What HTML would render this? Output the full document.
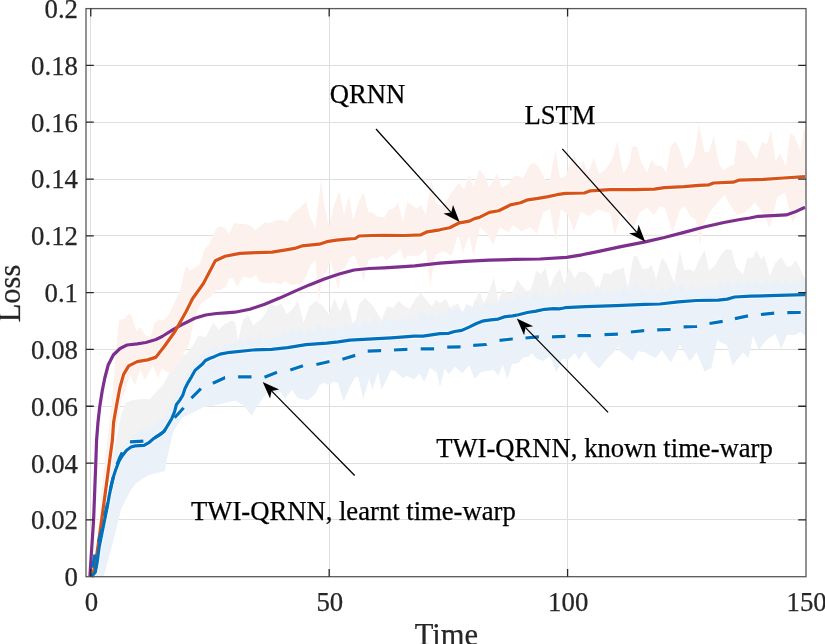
<!DOCTYPE html><html><head><meta charset="utf-8"><style>html,body{margin:0;padding:0;background:#fff;overflow:hidden}svg{display:block}</style></head><body>
<svg width="825" height="644" viewBox="0 0 825 644">
<rect width="825" height="644" fill="#fff"/>
<path d="M86.0 519.50H806.0M86.0 463.50H806.0M86.0 406.50H806.0M86.0 349.50H806.0M86.0 292.50H806.0M86.0 235.50H806.0M86.0 179.50H806.0M86.0 122.50H806.0M86.0 65.50H806.0M90.50 8.6V576.7M329.50 8.6V576.7M567.50 8.6V576.7" stroke="#dfdfdf" stroke-width="1" fill="none"/>
<polygon points="95.0,576.7 100.0,540.0 106.0,500.0 111.0,465.0 116.0,440.0 121.0,415.0 126.0,403.0 133.0,400.0 142.0,399.0 150.0,399.0 156.0,392.0 163.0,385.0 170.0,372.0 176.0,366.0 181.5,355.9 186.0,354.0 190.8,348.4 195.0,342.0 198.3,335.4 205.7,337.3 213.2,322.4 218.8,329.8 224.3,324.2 231.8,320.5 235.0,322.0 238.0,339.7 243.0,320.0 247.9,314.6 253.5,325.8 257.0,322.0 261.8,318.8 266.0,312.0 270.2,303.5 275.8,306.2 281.3,303.5 286.9,314.6 292.5,309.0 298.0,300.7 303.6,323.0 309.2,306.2 316.2,300.7 323.2,306.2 328.7,314.6 334.3,297.9 339.9,311.8 345.5,297.9 350.0,312.0 353.8,328.5 359.4,303.5 365.0,297.9 373.3,306.2 381.7,320.2 387.3,306.2 393.0,308.0 398.4,300.7 404.0,306.0 409.6,309.0 415.0,300.0 420.7,292.3 426.0,300.0 431.9,306.2 436.0,300.0 440.0,303.3 445.6,298.8 450.1,307.8 457.9,303.3 462.4,312.3 469.2,304.4 473.6,307.8 479.2,289.9 483.7,303.3 488.2,294.3 493.8,277.5 498.3,301.1 502.8,288.7 507.3,293.2 511.8,293.2 517.4,279.8 521.9,285.4 526.3,291.0 530.8,289.9 536.4,270.8 540.9,274.2 545.4,267.4 549.9,287.6 554.4,276.4 560.0,268.5 564.5,284.2 569.0,267.4 574.6,278.6 579.0,271.9 585.8,271.9 592.5,278.6 598.1,292.1 603.7,273.1 610.4,274.2 614.9,269.7 620.0,269.3 623.4,267.1 627.9,287.4 633.5,255.8 636.9,255.8 642.5,269.3 648.2,268.2 651.6,264.8 656.1,279.5 661.7,258.0 666.2,262.5 674.1,282.8 679.8,251.3 684.3,270.4 688.8,269.3 694.4,271.6 698.9,260.3 704.6,250.1 709.1,270.4 714.7,265.9 720.3,255.8 726.0,249.0 731.6,250.1 736.1,267.1 742.9,275.0 747.4,258.0 753.0,258.0 756.4,250.1 760.9,259.2 764.3,255.8 770.0,276.1 775.6,262.5 781.2,256.9 786.9,267.1 791.4,265.9 795.9,260.3 801.5,271.6 804.9,278.3 806.0,275.0 806.0,336.3 800.4,331.8 794.7,335.1 786.9,335.1 781.2,348.7 775.6,334.0 766.6,339.7 758.7,349.8 753.0,335.1 748.5,357.7 742.9,352.1 732.7,365.6 727.1,345.3 722.6,343.0 717.0,339.7 711.3,367.8 704.6,371.2 696.7,352.1 689.9,361.1 684.3,352.1 679.8,344.2 676.4,352.1 670.7,362.2 661.7,349.8 656.1,357.7 650.4,355.4 644.8,352.1 638.0,350.9 632.4,361.1 624.5,354.3 620.0,350.9 618.3,346.2 612.7,352.9 606.0,359.7 599.2,368.6 590.3,359.7 584.7,350.7 579.0,359.7 574.6,352.9 567.8,359.7 562.2,358.5 556.6,372.0 549.9,356.3 543.2,360.8 536.4,358.5 532.0,352.9 528.6,356.3 523.0,357.4 518.5,363.0 511.8,364.2 507.3,378.7 502.8,364.2 498.3,375.4 493.8,369.8 480.4,372.0 474.8,378.7 469.2,365.3 462.4,373.1 454.6,366.4 449.0,374.2 444.5,368.6 440.0,386.6 436.9,372.3 430.0,367.7 424.3,381.5 419.7,373.4 413.9,379.2 407.0,375.7 402.4,378.0 395.5,371.1 390.9,370.0 381.7,389.5 378.2,371.1 372.5,389.5 369.0,378.0 363.2,398.8 358.6,376.9 355.2,376.9 349.4,387.2 343.7,401.1 337.9,382.6 333.3,381.5 328.7,384.9 324.1,382.6 319.5,384.9 314.9,394.2 308.0,399.9 301.1,398.8 297.6,397.6 291.8,389.5 284.9,398.8 280.3,391.8 273.4,394.2 266.5,393.0 260.8,401.1 255.0,409.1 251.8,415.6 243.1,404.7 234.4,400.4 216.9,404.7 203.8,406.9 190.7,413.4 182.0,417.8 173.3,430.9 166.7,459.0 164.7,471.0 148.5,475.0 136.0,483.0 130.0,491.0 120.9,509.5 112.2,544.4 103.5,576.7" fill="#F2F2F2"/>
<polygon points="90.0,576.7 94.7,561.8 100.0,535.0 107.8,509.5 111.1,475.0 116.5,455.0 125.3,444.0 138.4,430.9 151.5,426.5 164.5,417.8 173.3,400.4 186.4,374.2 199.5,356.7 216.9,345.4 220.5,351.0 223.8,341.8 227.9,347.1 232.5,343.4 236.8,344.9 240.2,338.6 245.6,343.3 249.3,335.1 255.0,342.7 259.2,330.3 262.5,342.2 266.4,335.9 269.9,339.4 275.3,334.3 280.0,338.9 284.1,329.8 287.5,335.7 291.2,327.3 295.5,334.8 300.2,327.3 304.2,334.8 309.2,327.7 313.9,332.5 319.4,322.3 323.3,332.6 326.8,324.0 332.0,329.3 336.5,326.0 341.4,330.2 346.1,318.4 350.1,329.1 354.9,319.9 359.3,328.6 365.0,319.5 369.9,324.7 375.0,316.6 380.8,325.4 384.7,317.4 389.7,322.1 394.1,318.3 397.5,321.4 402.7,317.6 406.6,321.2 412.1,316.5 416.4,320.2 422.0,309.1 427.4,317.7 431.7,311.3 437.3,318.2 440.8,311.4 444.6,314.9 449.0,306.7 452.9,312.6 457.2,306.7 461.9,313.6 466.9,303.6 471.7,310.7 475.0,298.8 480.3,309.6 485.6,300.7 489.8,305.3 494.6,301.5 498.0,304.0 501.6,298.0 504.9,302.1 508.4,298.6 512.5,300.7 518.1,292.7 521.6,299.7 525.7,293.2 529.2,300.0 535.0,290.9 539.5,296.6 542.9,291.5 546.8,298.5 550.3,293.7 556.1,297.1 559.6,289.0 562.8,296.8 568.6,286.0 573.7,295.4 577.8,291.1 583.0,295.8 588.3,289.3 592.0,296.2 597.8,284.7 603.2,295.7 608.3,289.2 612.9,293.8 616.1,290.4 620.0,293.2 625.0,282.5 629.4,294.8 635.2,282.0 639.3,292.1 643.1,287.7 646.8,292.9 652.4,282.1 656.8,292.5 662.1,287.6 667.1,292.8 672.3,281.8 676.8,290.1 682.0,284.6 687.4,291.9 691.6,283.6 697.3,290.7 700.9,285.3 704.4,290.9 709.8,284.6 715.2,290.2 720.1,282.0 724.7,286.7 727.9,276.2 732.8,287.1 738.5,279.4 744.0,286.8 747.7,280.0 751.6,284.3 756.4,279.5 760.7,284.0 766.3,278.8 770.6,285.4 776.2,278.2 781.9,285.1 786.5,277.4 789.7,284.9 793.3,281.6 798.6,284.1 803.0,275.8 806.0,283.6 806.0,336.3 800.4,331.8 794.7,335.1 786.9,335.1 781.2,348.7 775.6,334.0 766.6,339.7 758.7,349.8 753.0,335.1 748.5,357.7 742.9,352.1 732.7,365.6 727.1,345.3 722.6,343.0 717.0,339.7 711.3,367.8 704.6,371.2 696.7,352.1 689.9,361.1 684.3,352.1 679.8,344.2 676.4,352.1 670.7,362.2 661.7,349.8 656.1,357.7 650.4,355.4 644.8,352.1 638.0,350.9 632.4,361.1 624.5,354.3 620.0,350.9 618.3,346.2 612.7,352.9 606.0,359.7 599.2,368.6 590.3,359.7 584.7,350.7 579.0,359.7 574.6,352.9 567.8,359.7 562.2,358.5 556.6,372.0 549.9,356.3 543.2,360.8 536.4,358.5 532.0,352.9 528.6,356.3 523.0,357.4 518.5,363.0 511.8,364.2 507.3,378.7 502.8,364.2 498.3,375.4 493.8,369.8 480.4,372.0 474.8,378.7 469.2,365.3 462.4,373.1 454.6,366.4 449.0,374.2 444.5,368.6 440.0,386.6 436.9,372.3 430.0,367.7 424.3,381.5 419.7,373.4 413.9,379.2 407.0,375.7 402.4,378.0 395.5,371.1 390.9,370.0 381.7,389.5 378.2,371.1 372.5,389.5 369.0,378.0 363.2,398.8 358.6,376.9 355.2,376.9 349.4,387.2 343.7,401.1 337.9,382.6 333.3,381.5 328.7,384.9 324.1,382.6 319.5,384.9 314.9,394.2 308.0,399.9 301.1,398.8 297.6,397.6 291.8,389.5 284.9,398.8 280.3,391.8 273.4,394.2 266.5,393.0 260.8,401.1 255.0,409.1 251.8,415.6 243.1,404.7 234.4,400.4 216.9,404.7 203.8,406.9 190.7,413.4 182.0,417.8 173.3,430.9 166.7,459.0 164.7,471.0 148.5,475.0 136.0,483.0 130.0,491.0 120.9,509.5 112.2,544.4 103.5,576.7" fill="#EAF1F9"/>
<polygon points="92.0,576.7 97.0,540.0 104.0,470.0 112.0,400.0 118.0,330.0 119.1,320.0 124.1,319.0 129.2,312.9 132.2,316.9 136.2,331.1 140.3,327.0 145.3,335.1 150.4,337.1 154.4,323.0 159.4,319.0 163.5,321.0 168.5,314.9 174.6,302.8 180.6,288.7 185.7,266.5 190.7,270.5 194.7,267.5 199.8,264.5 203.8,250.4 208.9,244.3 212.9,236.2 215.9,229.2 220.0,226.1 225.0,228.2 229.0,234.2 234.1,223.1 239.1,224.1 245.2,224.1 251.2,226.1 255.3,230.2 260.3,226.1 264.6,222.2 269.2,223.3 276.1,220.3 283.0,219.9 287.6,221.7 292.2,214.1 299.2,208.4 306.1,201.5 309.5,215.3 315.3,229.1 321.0,179.6 324.5,206.1 329.1,226.8 333.7,206.1 339.5,191.1 344.1,215.3 348.7,195.7 353.3,219.9 359.0,201.5 363.6,192.2 368.2,211.8 372.9,213.0 377.5,216.4 384.4,217.6 389.0,209.5 393.6,208.4 398.2,202.6 402.8,222.2 407.4,201.5 412.0,204.9 416.6,208.4 421.2,204.9 425.8,215.3 431.6,178.4 436.2,203.8 441.9,206.1 446.5,201.5 450.0,194.5 453.5,190.0 459.1,182.8 464.0,190.0 469.2,175.0 473.6,187.3 479.2,169.3 484.9,176.1 489.3,187.3 497.2,173.8 501.7,187.3 507.3,185.0 514.0,176.1 518.5,176.1 523.0,178.3 529.7,164.9 534.2,162.6 538.7,167.1 545.4,180.6 549.9,180.6 555.5,149.2 560.0,178.3 565.6,176.1 574.6,153.6 579.0,171.6 583.5,160.4 588.0,173.8 593.6,158.1 599.2,173.8 606.0,169.3 612.7,158.1 617.2,141.3 621.7,164.9 623.4,173.6 629.0,164.6 632.4,146.6 636.9,146.6 641.4,162.4 647.1,172.5 651.6,160.1 656.1,165.7 661.7,165.7 666.2,172.5 670.7,146.6 675.2,140.9 679.8,150.0 685.4,169.1 689.9,163.5 694.4,155.6 698.9,124.0 704.6,152.2 709.1,152.2 713.6,135.3 719.2,164.6 723.7,170.2 730.5,165.7 733.9,164.6 737.2,139.8 746.3,142.1 750.8,151.1 756.4,159.0 762.0,142.1 766.6,144.3 771.1,129.7 775.6,161.2 780.1,153.3 785.7,165.7 790.2,133.0 794.7,136.4 800.4,151.1 803.8,129.7 806.0,128.5 806.0,200.0 799.0,212.0 792.3,222.5 784.8,192.5 777.3,197.5 769.8,227.4 762.0,212.0 754.8,202.5 746.0,212.0 737.3,215.0 730.0,205.0 724.8,195.0 717.4,202.5 710.0,212.0 703.0,225.0 699.9,245.0 696.0,220.0 690.0,216.0 685.0,206.0 680.0,210.0 672.4,232.4 665.0,208.0 660.0,206.0 654.0,215.0 647.4,207.5 640.0,212.0 632.5,230.0 625.0,212.0 620.0,215.0 615.0,235.0 610.0,213.0 604.6,211.8 598.0,209.6 589.3,216.2 580.6,211.8 574.0,231.5 567.5,214.0 560.9,209.6 555.5,240.2 550.0,209.6 543.5,211.8 536.9,233.6 530.4,227.1 521.6,231.5 512.9,224.9 508.5,232.5 499.8,227.1 493.3,244.5 486.7,233.6 480.0,227.0 473.6,255.5 469.0,236.0 462.7,253.3 458.4,233.6 451.8,255.5 443.0,251.0 439.0,253.3 435.0,255.7 430.4,285.7 425.8,248.8 418.9,255.7 412.0,255.7 407.4,255.7 404.0,260.3 400.5,248.8 395.9,253.4 391.3,255.7 386.7,260.3 382.1,255.7 377.5,258.0 372.9,258.0 368.2,260.3 363.6,281.1 359.0,267.2 354.4,255.7 349.8,258.0 345.2,267.2 341.8,269.5 338.3,290.3 333.7,271.8 330.2,260.3 326.8,271.8 322.2,276.5 318.7,301.8 315.3,260.3 310.7,264.9 306.1,276.5 301.5,283.4 294.5,284.5 289.9,284.5 285.3,281.1 280.7,284.5 273.8,282.2 266.9,283.4 260.0,282.2 256.0,275.0 251.2,278.6 243.2,276.6 237.1,286.7 233.1,278.6 229.0,278.6 226.0,286.7 221.0,289.7 214.9,290.7 211.9,296.0 206.8,299.0 200.4,305.0 197.5,310.8 195.0,317.0 193.0,325.0 191.0,335.0 189.0,345.0 184.0,353.0 180.0,362.0 176.0,366.0 172.0,374.0 167.0,372.0 162.0,368.0 158.0,378.0 153.0,366.0 149.0,372.0 145.0,380.0 140.0,370.0 135.0,385.0 130.0,375.0 125.0,392.0 121.0,400.0 118.0,420.0 113.0,450.0 107.0,490.0 100.0,530.0 95.0,576.7" fill="#FCF1EC"/>
<g fill="none" stroke="#fff" stroke-width="4.9" stroke-opacity="0.85" stroke-linejoin="round"><polyline points="89.9,576.7 91.4,553.0 93.6,520.0 95.8,462.8 96.6,440.0 98.0,422.2 99.7,407.0 102.2,391.0 104.8,378.0 108.2,365.0 113.3,355.0 120.1,348.5 127.0,345.0 137.2,343.8 145.8,342.5 156.0,339.5 162.1,336.5 173.0,329.6 183.8,323.7 194.7,318.3 205.6,315.0 216.4,313.5 226.0,312.8 234.9,312.2 249.8,309.2 264.7,304.3 279.6,298.1 294.5,291.4 309.4,284.9 324.3,279.0 339.2,274.0 354.1,270.0 369.0,268.5 383.9,267.8 400.0,266.8 414.8,265.8 439.7,263.2 464.5,261.3 489.3,260.2 514.1,259.4 540.0,259.0 566.5,257.3 582.0,254.8 597.6,251.6 620.9,246.6 644.1,242.1 664.3,237.5 684.1,232.4 704.0,227.0 723.9,222.5 740.0,219.5 749.9,218.0 758.3,216.3 772.3,215.7 786.2,214.9 794.6,212.1 805.0,207.3"/><polyline points="91.5,576.7 92.5,575.9 95.8,561.7 100.1,531.3 104.8,496.5 108.3,470.4 112.4,440.0 113.6,422.2 116.6,405.1 119.8,388.0 123.6,374.4 128.7,365.9 137.2,361.6 147.5,359.9 155.6,357.4 164.3,346.5 175.1,331.3 186.0,311.7 192.5,298.7 203.4,283.5 215.3,260.7 225.1,256.3 239.9,253.4 257.2,252.6 272.1,252.1 284.5,250.1 294.5,248.4 301.9,245.9 309.4,245.2 319.3,244.2 326.8,241.7 336.7,240.2 346.6,239.2 355.3,238.5 359.0,236.0 371.4,235.5 383.9,235.3 404.9,235.5 421.0,234.8 427.2,231.8 439.7,229.8 449.6,227.8 459.5,222.8 469.4,221.1 474.4,218.6 479.4,217.4 489.3,212.4 498.7,210.7 510.4,204.9 520.5,202.7 527.8,199.8 538.0,198.4 548.2,196.6 556.9,194.7 565.6,193.3 584.5,193.0 590.4,190.8 609.7,189.7 634.5,189.7 654.3,189.2 664.3,187.7 684.1,186.7 699.0,185.3 709.0,184.8 713.5,183.0 733.1,182.2 738.7,180.2 763.9,179.4 783.4,178.0 805.0,176.6"/><polyline points="91.2,575.5 93.5,574.3 95.3,572.2 97.2,562.0 99.0,548.0 101.8,534.0 104.6,520.0 107.6,505.0 109.2,495.9 111.4,485.0 113.6,476.3 115.7,469.8 119.0,461.1 122.3,455.7 126.6,450.2 131.0,447.0 135.3,445.9 144.0,445.3 149.3,442.3 154.0,438.3 159.7,434.6 164.0,431.5 168.2,424.6 171.7,418.7 174.6,411.7 176.3,404.8 179.8,400.1 182.7,395.4 185.0,388.4 188.0,382.6 191.5,376.8 195.0,370.4 198.4,367.5 201.9,364.6 205.4,360.5 210.1,358.2 214.8,356.4 220.0,354.1 230.0,352.3 253.0,350.0 271.5,349.3 287.6,347.7 306.0,344.7 326.7,343.1 338.2,341.9 349.8,340.1 368.2,339.1 391.2,337.8 414.2,336.2 423.0,336.2 440.0,333.6 448.7,333.3 454.5,331.5 461.8,330.4 469.1,327.1 476.4,323.5 483.6,320.8 490.9,319.8 498.2,319.1 504.0,316.9 512.7,315.9 518.5,314.7 527.3,312.5 536.0,311.1 544.7,309.3 553.5,308.6 560.0,308.8 565.0,307.7 585.5,306.6 616.0,305.6 644.8,304.4 660.0,304.0 678.2,301.9 696.4,300.5 718.2,300.2 727.3,299.1 734.5,297.0 750.9,296.2 778.2,295.4 805.5,294.6"/><path d="M92.7,567.7 L93.6,562.0 L95.0,554.5M98.5,541.9 L100.0,537.0 L101.9,529.0M104.8,516.2 L107.4,504.0 L107.6,503.1M110.3,490.3 L111.8,483.0 L113.2,477.2M117.0,464.6 L119.5,458.0 L122.3,452.4M130.0,441.8 L143.4,441.2M154.9,437.7 L159.7,434.6 L164.0,431.5 L165.2,429.5M174.6,417.8 L183.0,408.5 L183.5,407.8M191.4,398.2 L200.9,388.7M212.8,383.3 L224.9,377.7 L225.0,377.7M238.1,376.9 L251.5,376.9M264.5,377.2 L277.0,372.3M290.3,370.0 L303.0,365.8M316.4,364.5 L329.5,361.5M342.4,359.2 L355.2,355.4M367.7,351.1 L380.9,350.7 L381.1,350.7M394.0,350.0 L406.9,349.3 L407.4,349.3M420.7,348.9 L434.1,348.9M447.2,347.2 L460.3,346.9 L460.6,346.9M473.2,345.4 L486.4,344.5 L486.6,344.4M499.5,340.3 L512.4,339.0 L512.8,339.0M525.5,338.0 L538.2,336.9 L538.9,336.9M552.0,336.9 L564.7,336.4 L565.4,336.4M577.5,335.7 L590.0,335.6 L590.9,335.5M604.5,334.7 L617.7,334.2 L617.9,334.2M630.9,332.0 L644.0,330.6 L644.2,330.6M657.2,329.8 L670.5,329.5 L670.6,329.5M683.6,326.8 L696.4,326.5 L697.0,326.4M709.5,323.5 L722.7,321.4 L722.7,321.4M734.9,318.6 L748.0,315.9M760.9,314.5 L774.2,313.2 L774.2,313.2M787.3,312.6 L800.7,312.5"/></g>
<polyline points="89.9,576.7 91.4,553.0 93.6,520.0 95.8,462.8 96.6,440.0 98.0,422.2 99.7,407.0 102.2,391.0 104.8,378.0 108.2,365.0 113.3,355.0 120.1,348.5 127.0,345.0 137.2,343.8 145.8,342.5 156.0,339.5 162.1,336.5 173.0,329.6 183.8,323.7 194.7,318.3 205.6,315.0 216.4,313.5 226.0,312.8 234.9,312.2 249.8,309.2 264.7,304.3 279.6,298.1 294.5,291.4 309.4,284.9 324.3,279.0 339.2,274.0 354.1,270.0 369.0,268.5 383.9,267.8 400.0,266.8 414.8,265.8 439.7,263.2 464.5,261.3 489.3,260.2 514.1,259.4 540.0,259.0 566.5,257.3 582.0,254.8 597.6,251.6 620.9,246.6 644.1,242.1 664.3,237.5 684.1,232.4 704.0,227.0 723.9,222.5 740.0,219.5 749.9,218.0 758.3,216.3 772.3,215.7 786.2,214.9 794.6,212.1 805.0,207.3" fill="none" stroke="#7E2F8E" stroke-width="3.2" stroke-linejoin="round"/>
<polyline points="91.5,576.7 92.5,575.9 95.8,561.7 100.1,531.3 104.8,496.5 108.3,470.4 112.4,440.0 113.6,422.2 116.6,405.1 119.8,388.0 123.6,374.4 128.7,365.9 137.2,361.6 147.5,359.9 155.6,357.4 164.3,346.5 175.1,331.3 186.0,311.7 192.5,298.7 203.4,283.5 215.3,260.7 225.1,256.3 239.9,253.4 257.2,252.6 272.1,252.1 284.5,250.1 294.5,248.4 301.9,245.9 309.4,245.2 319.3,244.2 326.8,241.7 336.7,240.2 346.6,239.2 355.3,238.5 359.0,236.0 371.4,235.5 383.9,235.3 404.9,235.5 421.0,234.8 427.2,231.8 439.7,229.8 449.6,227.8 459.5,222.8 469.4,221.1 474.4,218.6 479.4,217.4 489.3,212.4 498.7,210.7 510.4,204.9 520.5,202.7 527.8,199.8 538.0,198.4 548.2,196.6 556.9,194.7 565.6,193.3 584.5,193.0 590.4,190.8 609.7,189.7 634.5,189.7 654.3,189.2 664.3,187.7 684.1,186.7 699.0,185.3 709.0,184.8 713.5,183.0 733.1,182.2 738.7,180.2 763.9,179.4 783.4,178.0 805.0,176.6" fill="none" stroke="#D95319" stroke-width="3.2" stroke-linejoin="round"/>
<polyline points="91.2,575.5 93.5,574.3 95.3,572.2 97.2,562.0 99.0,548.0 101.8,534.0 104.6,520.0 107.6,505.0 109.2,495.9 111.4,485.0 113.6,476.3 115.7,469.8 119.0,461.1 122.3,455.7 126.6,450.2 131.0,447.0 135.3,445.9 144.0,445.3 149.3,442.3 154.0,438.3 159.7,434.6 164.0,431.5 168.2,424.6 171.7,418.7 174.6,411.7 176.3,404.8 179.8,400.1 182.7,395.4 185.0,388.4 188.0,382.6 191.5,376.8 195.0,370.4 198.4,367.5 201.9,364.6 205.4,360.5 210.1,358.2 214.8,356.4 220.0,354.1 230.0,352.3 253.0,350.0 271.5,349.3 287.6,347.7 306.0,344.7 326.7,343.1 338.2,341.9 349.8,340.1 368.2,339.1 391.2,337.8 414.2,336.2 423.0,336.2 440.0,333.6 448.7,333.3 454.5,331.5 461.8,330.4 469.1,327.1 476.4,323.5 483.6,320.8 490.9,319.8 498.2,319.1 504.0,316.9 512.7,315.9 518.5,314.7 527.3,312.5 536.0,311.1 544.7,309.3 553.5,308.6 560.0,308.8 565.0,307.7 585.5,306.6 616.0,305.6 644.8,304.4 660.0,304.0 678.2,301.9 696.4,300.5 718.2,300.2 727.3,299.1 734.5,297.0 750.9,296.2 778.2,295.4 805.5,294.6" fill="none" stroke="#0072BD" stroke-width="3.2" stroke-linejoin="round"/>
<path d="M92.7,567.7 L93.6,562.0 L95.0,554.5M98.5,541.9 L100.0,537.0 L101.9,529.0M104.8,516.2 L107.4,504.0 L107.6,503.1M110.3,490.3 L111.8,483.0 L113.2,477.2M117.0,464.6 L119.5,458.0 L122.3,452.4M130.0,441.8 L143.4,441.2M154.9,437.7 L159.7,434.6 L164.0,431.5 L165.2,429.5M174.6,417.8 L183.0,408.5 L183.5,407.8M191.4,398.2 L200.9,388.7M212.8,383.3 L224.9,377.7 L225.0,377.7M238.1,376.9 L251.5,376.9M264.5,377.2 L277.0,372.3M290.3,370.0 L303.0,365.8M316.4,364.5 L329.5,361.5M342.4,359.2 L355.2,355.4M367.7,351.1 L380.9,350.7 L381.1,350.7M394.0,350.0 L406.9,349.3 L407.4,349.3M420.7,348.9 L434.1,348.9M447.2,347.2 L460.3,346.9 L460.6,346.9M473.2,345.4 L486.4,344.5 L486.6,344.4M499.5,340.3 L512.4,339.0 L512.8,339.0M525.5,338.0 L538.2,336.9 L538.9,336.9M552.0,336.9 L564.7,336.4 L565.4,336.4M577.5,335.7 L590.0,335.6 L590.9,335.5M604.5,334.7 L617.7,334.2 L617.9,334.2M630.9,332.0 L644.0,330.6 L644.2,330.6M657.2,329.8 L670.5,329.5 L670.6,329.5M683.6,326.8 L696.4,326.5 L697.0,326.4M709.5,323.5 L722.7,321.4 L722.7,321.4M734.9,318.6 L748.0,315.9M760.9,314.5 L774.2,313.2 L774.2,313.2M787.3,312.6 L800.7,312.5" fill="none" stroke="#0072BD" stroke-width="3.2" stroke-linejoin="round"/>
<rect x="86.0" y="8.6" width="720.0" height="568.1" fill="none" stroke="#595959" stroke-width="1.3"/>
<path d="M86.0 519.89h7.8M806.0 519.89h-7.8M86.0 463.08h7.8M806.0 463.08h-7.8M86.0 406.27h7.8M806.0 406.27h-7.8M86.0 349.46h7.8M806.0 349.46h-7.8M86.0 292.65h7.8M806.0 292.65h-7.8M86.0 235.84h7.8M806.0 235.84h-7.8M86.0 179.03h7.8M806.0 179.03h-7.8M86.0 122.22h7.8M806.0 122.22h-7.8M86.0 65.41h7.8M806.0 65.41h-7.8M90.77 576.7v-7.8M90.77 8.6v7.8M329.18 576.7v-7.8M329.18 8.6v7.8M567.59 576.7v-7.8M567.59 8.6v7.8" stroke="#262626" stroke-width="1.3" fill="none"/>
<line x1="376.0" y1="129.0" x2="451.2" y2="212.6" stroke="#000" stroke-width="1.3"/><polygon points="459.6,221.9 443.5,213.5 451.2,212.6 453.0,205.0" fill="#000"/>
<line x1="562.3" y1="148.9" x2="636.9" y2="232.4" stroke="#000" stroke-width="1.3"/><polygon points="645.2,241.7 629.1,233.3 636.9,232.4 638.6,224.8" fill="#000"/>
<line x1="608.1" y1="412.4" x2="525.5" y2="327.6" stroke="#000" stroke-width="1.3"/><polygon points="516.8,318.6 533.2,326.3 525.5,327.6 524.1,335.2" fill="#000"/>
<line x1="354.7" y1="475.5" x2="271.5" y2="390.9" stroke="#000" stroke-width="1.3"/><polygon points="262.7,382.0 279.2,389.6 271.5,390.9 270.1,398.6" fill="#000"/>
<text x="78" y="586.1" font-family="&apos;Liberation Serif&apos;, &apos;Times New Roman&apos;, serif" stroke-width="0.25" font-size="26.8" text-anchor="end" fill="#262626" stroke="#262626">0</text>
<text x="78" y="529.3" font-family="&apos;Liberation Serif&apos;, &apos;Times New Roman&apos;, serif" stroke-width="0.25" font-size="26.8" text-anchor="end" fill="#262626" stroke="#262626">0.02</text>
<text x="78" y="472.5" font-family="&apos;Liberation Serif&apos;, &apos;Times New Roman&apos;, serif" stroke-width="0.25" font-size="26.8" text-anchor="end" fill="#262626" stroke="#262626">0.04</text>
<text x="78" y="415.7" font-family="&apos;Liberation Serif&apos;, &apos;Times New Roman&apos;, serif" stroke-width="0.25" font-size="26.8" text-anchor="end" fill="#262626" stroke="#262626">0.06</text>
<text x="78" y="358.9" font-family="&apos;Liberation Serif&apos;, &apos;Times New Roman&apos;, serif" stroke-width="0.25" font-size="26.8" text-anchor="end" fill="#262626" stroke="#262626">0.08</text>
<text x="78" y="302.1" font-family="&apos;Liberation Serif&apos;, &apos;Times New Roman&apos;, serif" stroke-width="0.25" font-size="26.8" text-anchor="end" fill="#262626" stroke="#262626">0.1</text>
<text x="78" y="245.2" font-family="&apos;Liberation Serif&apos;, &apos;Times New Roman&apos;, serif" stroke-width="0.25" font-size="26.8" text-anchor="end" fill="#262626" stroke="#262626">0.12</text>
<text x="78" y="188.4" font-family="&apos;Liberation Serif&apos;, &apos;Times New Roman&apos;, serif" stroke-width="0.25" font-size="26.8" text-anchor="end" fill="#262626" stroke="#262626">0.14</text>
<text x="78" y="131.6" font-family="&apos;Liberation Serif&apos;, &apos;Times New Roman&apos;, serif" stroke-width="0.25" font-size="26.8" text-anchor="end" fill="#262626" stroke="#262626">0.16</text>
<text x="78" y="74.8" font-family="&apos;Liberation Serif&apos;, &apos;Times New Roman&apos;, serif" stroke-width="0.25" font-size="26.8" text-anchor="end" fill="#262626" stroke="#262626">0.18</text>
<text x="78" y="18.0" font-family="&apos;Liberation Serif&apos;, &apos;Times New Roman&apos;, serif" stroke-width="0.25" font-size="26.8" text-anchor="end" fill="#262626" stroke="#262626">0.2</text>
<text x="91.4" y="610.5" font-family="&apos;Liberation Serif&apos;, &apos;Times New Roman&apos;, serif" stroke-width="0.25" font-size="26.8" text-anchor="middle" fill="#262626" stroke="#262626">0</text>
<text x="329.8" y="610.5" font-family="&apos;Liberation Serif&apos;, &apos;Times New Roman&apos;, serif" stroke-width="0.25" font-size="26.8" text-anchor="middle" fill="#262626" stroke="#262626">50</text>
<text x="568.2" y="610.5" font-family="&apos;Liberation Serif&apos;, &apos;Times New Roman&apos;, serif" stroke-width="0.25" font-size="26.8" text-anchor="middle" fill="#262626" stroke="#262626">100</text>
<text x="806.6" y="610.5" font-family="&apos;Liberation Serif&apos;, &apos;Times New Roman&apos;, serif" stroke-width="0.25" font-size="26.8" text-anchor="middle" fill="#262626" stroke="#262626">150</text>
<text x="446.3" y="645.2" font-family="&apos;Liberation Serif&apos;, &apos;Times New Roman&apos;, serif" stroke-width="0.25" font-size="30.5" text-anchor="middle" fill="#262626" stroke="#262626">Time</text>
<text transform="translate(19.8,293.5) rotate(-90)" font-family="&apos;Liberation Serif&apos;, &apos;Times New Roman&apos;, serif" stroke-width="0.25" font-size="30.5" text-anchor="middle" fill="#262626" stroke="#262626">Loss</text>
<text x="329.8" y="103.1" font-family="&apos;Liberation Serif&apos;, &apos;Times New Roman&apos;, serif" stroke-width="0.25" font-size="26.65" fill="#000" stroke="#000">QRNN</text>
<text x="524.5" y="123.5" font-family="&apos;Liberation Serif&apos;, &apos;Times New Roman&apos;, serif" stroke-width="0.25" font-size="26.65" fill="#000" stroke="#000">LSTM</text>
<text x="436.2" y="456.8" font-family="&apos;Liberation Serif&apos;, &apos;Times New Roman&apos;, serif" stroke-width="0.25" font-size="26.65" fill="#000" stroke="#000">TWI-QRNN, known time-warp</text>
<text x="191.0" y="519.7" font-family="&apos;Liberation Serif&apos;, &apos;Times New Roman&apos;, serif" stroke-width="0.25" font-size="26.65" fill="#000" stroke="#000">TWI-QRNN, learnt time-warp</text>
</svg></body></html>
